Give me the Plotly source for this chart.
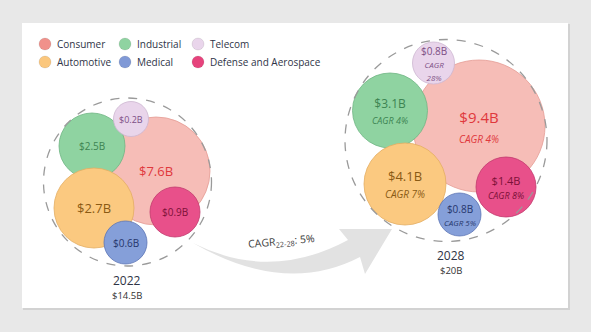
import plotly.graph_objects as go

# ---- data ----
categories = ["Consumer", "Industrial", "Telecom", "Automotive", "Medical", "Defense and Aerospace"]
values_2022 = [7.6, 2.5, 0.2, 2.7, 0.6, 0.9]
values_2028 = [9.4, 3.1, 0.8, 4.1, 0.8, 1.4]
cagr_2028 = [4, 4, 28, 7, 5, 8]
years = ["2022", "2028"]
totals = ["$14.5B", "$20B"]
cagr_total = 5

# ---- styles ----
fill_colors = ["#f6bdb7", "#8fd3a1", "#e9d5eb", "#fbc980", "#859fd9", "#e8508a"]
legend_colors = ["#f0918b", "#8fd3a1", "#e9d5eb", "#fbc77d", "#8099d6", "#e6437c"]
line_colors = ["#e59d96", "#6fb583", "#cdb6d0", "#e3ad62", "#5a74b5", "#c23a6d"]
text_colors = ["#e0383c", "#3d8452", "#7d4f85", "#8a5a14", "#25366c", "#7c1038"]

# ---- layout geometry (pixel space) ----
pos_2022 = [(156, 171, 54), (92, 146, 33), (131, 119, 17.5), (94, 208, 40), (125.5, 242.5, 21.5), (175, 212, 25)]
pos_2028 = [(479, 126, 66), (390, 110.5, 37.5), (433.5, 63, 21), (405, 184, 41), (459.5, 214.5, 21.5), (506, 187, 30)]
outer = [(127.5, 182, 84), (446, 140.5, 101)]
year_lbl = [(127, 280), (451, 255)]
size_2022 = [13, 10, 9, 13, 10, 10]
size_2028 = [15, 12, 10, 13, 10, 11]
sub_2028 = [10, 9, 8, 10, 8, 9]
draw_order = [0, 1, 2, 3, 5, 4]
legend_pos = [(45, 44), (125, 44), (198, 44), (45, 62), (125, 62), (198, 62)]

FONT = "Open Sans"

fig = go.Figure()
shapes = []
annotations = []

# card with shadow
shapes.append(dict(type="rect", x0=23, y0=24, x1=570, y1=310, fillcolor="#d2d2d2", line_width=0, layer="below"))
shapes.append(dict(type="rect", x0=22, y0=23, x1=568, y1=308, fillcolor="#ffffff", line_width=0, layer="below"))

# arrow
shapes.append(dict(type="path",
                   path="M 193,243 Q 270,282 348,240 L 339,229 L 392,229 L 365,274 L 360,257 Q 285,296 193,243 Z",
                   fillcolor="#e2e2e2", line_width=0, layer="below"))

def add_cluster(pos, vals, sizes, outer_c, with_cagr):
    for i in draw_order:
        cx, cy, r = pos[i]
        shapes.append(dict(type="circle", xref="x", yref="y", x0=cx - r, x1=cx + r, y0=cy - r, y1=cy + r,
                           fillcolor=fill_colors[i], line=dict(color=line_colors[i], width=0.8), layer="above"))
    ox, oy, orr = outer_c
    shapes.append(dict(type="circle", x0=ox - orr, x1=ox + orr, y0=oy - orr, y1=oy + orr,
                       fillcolor="rgba(0,0,0,0)", line=dict(color="#9a9a9a", width=1.3, dash="dash"), layer="above"))
    for i in range(len(vals)):
        cx, cy, r = pos[i]
        if with_cagr:
            if categories[i] == "Telecom":
                txt = (f"${vals[i]}B<br><span style='font-size:{sub_2028[i]}px'><i>CAGR</i></span>"
                       f"<br><span style='font-size:{sub_2028[i]}px'><i>{cagr_2028[i]}%</i></span>")
            else:
                txt = f"${vals[i]}B<br><span style='font-size:{sub_2028[i]}px'><i>CAGR {cagr_2028[i]}%</i></span>"
        else:
            txt = f"${vals[i]}B"
        annotations.append(dict(x=cx, y=cy, text=txt, showarrow=False, xanchor="center", yanchor="middle",
                                font=dict(family=FONT, size=sizes[i], color=text_colors[i])))

add_cluster(pos_2022, values_2022, size_2022, outer[0], False)
add_cluster(pos_2028, values_2028, size_2028, outer[1], True)

for k in range(2):
    x, y = year_lbl[k]
    annotations.append(dict(x=x, y=y, text=years[k], showarrow=False, yanchor="middle", borderpad=0,
                            font=dict(family=FONT, size=12, color="#2e3445")))
    annotations.append(dict(x=x, y=y + 15, text=totals[k], showarrow=False, yanchor="middle", borderpad=0,
                            font=dict(family=FONT, size=9.5, color="#333333")))

annotations.append(dict(x=281, y=241, text=f"CAGR<sub>22-28</sub>: {cagr_total}%", showarrow=False, textangle=-5,
                        font=dict(family=FONT, size=10.5, color="#3a3a3a")))

# legend
fig.add_trace(go.Scatter(x=[p[0] for p in legend_pos], y=[p[1] for p in legend_pos], mode="markers",
                         marker=dict(size=12, color=legend_colors, line=dict(color="rgba(0,0,0,0.15)", width=0.6)),
                         hoverinfo="text", text=categories, showlegend=False))
for i, c in enumerate(categories):
    x, y = legend_pos[i]
    annotations.append(dict(x=x + 10, y=y, text=c, showarrow=False, xanchor="left", yanchor="middle",
                            font=dict(family=FONT, size=10, color="#2f3447")))

fig.update_layout(width=591, height=332, margin=dict(l=0, r=0, t=0, b=0),
                  paper_bgcolor="#e8e8e8", plot_bgcolor="#e8e8e8",
                  xaxis=dict(range=[0, 591], visible=False, fixedrange=True),
                  yaxis=dict(range=[332, 0], visible=False, fixedrange=True),
                  shapes=shapes, annotations=annotations, showlegend=False)

fig.write_html("out.html")
